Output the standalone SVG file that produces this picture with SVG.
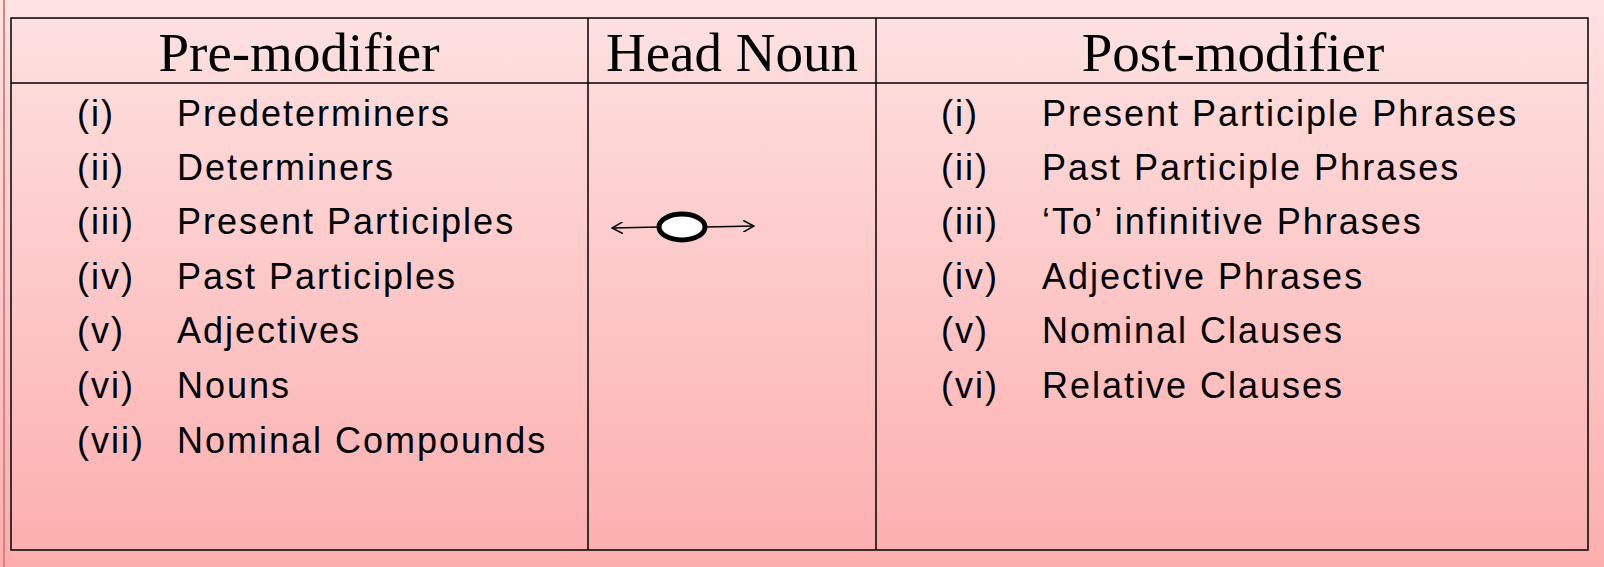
<svg xmlns="http://www.w3.org/2000/svg" width="1604" height="567" viewBox="0 0 1604 567">
<defs>
<linearGradient id="bg" x1="0" y1="0" x2="0" y2="1">
<stop offset="0" stop-color="#fee2e2"/><stop offset="1" stop-color="#fcaeae"/>
</linearGradient>
<marker id="ah" viewBox="0 0 12 12" refX="11" refY="6" markerWidth="12" markerHeight="12" markerUnits="userSpaceOnUse" orient="auto-start-reverse">
<path d="M0,0 L11,6 L0,12" fill="none" stroke="#000" stroke-width="1.5"/>
</marker>
<style>
.h{font-family:"Liberation Serif",serif;font-size:55px;fill:#000;text-anchor:middle}
.t{font-family:"Liberation Sans",sans-serif;font-size:36px;letter-spacing:2px;fill:#000}
.g{fill:none;stroke:#000;stroke-width:1.5}
</style>
</defs>
<rect width="1604" height="567" fill="url(#bg)"/>
<line x1="4" y1="0" x2="4" y2="567" stroke="#e08080" stroke-width="2"/>
<g id="table">
<rect x="11" y="18" width="1577" height="532" class="g"/>
<line x1="11" y1="83" x2="1588" y2="83" class="g"/>
<line x1="588" y1="18" x2="588" y2="550" class="g"/>
<line x1="876" y1="18" x2="876" y2="550" class="g"/>
</g>
<g id="headers">
<text class="h" x="299" y="71">Pre-modifier</text>
<text class="h" x="732" y="71">Head Noun</text>
<text class="h" x="1233" y="71">Post-modifier</text>
</g>
<g id="pre">
<text class="t" x="77" y="126">(i)</text><text class="t" x="177" y="126">Predeterminers</text>
<text class="t" x="77" y="180">(ii)</text><text class="t" x="177" y="180">Determiners</text>
<text class="t" x="77" y="234">(iii)</text><text class="t" x="177" y="234">Present Participles</text>
<text class="t" x="77" y="289">(iv)</text><text class="t" x="177" y="289">Past Participles</text>
<text class="t" x="77" y="343">(v)</text><text class="t" x="177" y="343">Adjectives</text>
<text class="t" x="77" y="398">(vi)</text><text class="t" x="177" y="398">Nouns</text>
<text class="t" x="77" y="453">(vii)</text><text class="t" x="177" y="453">Nominal Compounds</text>
</g>
<g id="post">
<text class="t" x="941" y="126">(i)</text><text class="t" x="1042" y="126">Present Participle Phrases</text>
<text class="t" x="941" y="180">(ii)</text><text class="t" x="1042" y="180">Past Participle Phrases</text>
<text class="t" x="941" y="234">(iii)</text><text class="t" x="1042" y="234">‘To’ infinitive Phrases</text>
<text class="t" x="941" y="289">(iv)</text><text class="t" x="1042" y="289">Adjective Phrases</text>
<text class="t" x="941" y="343">(v)</text><text class="t" x="1042" y="343">Nominal Clauses</text>
<text class="t" x="941" y="398">(vi)</text><text class="t" x="1042" y="398">Relative Clauses</text>
</g>
<g id="connectors">
<line x1="612" y1="228" x2="660" y2="227" stroke="#000" stroke-width="1.5" marker-start="url(#ah)"/>
<line x1="706" y1="227" x2="754" y2="226" stroke="#000" stroke-width="1.5" marker-end="url(#ah)"/>
</g>
<g id="head-noun">
<ellipse cx="682" cy="227" rx="23" ry="13" fill="#fff" stroke="#000" stroke-width="5"/>
</g>
</svg>
